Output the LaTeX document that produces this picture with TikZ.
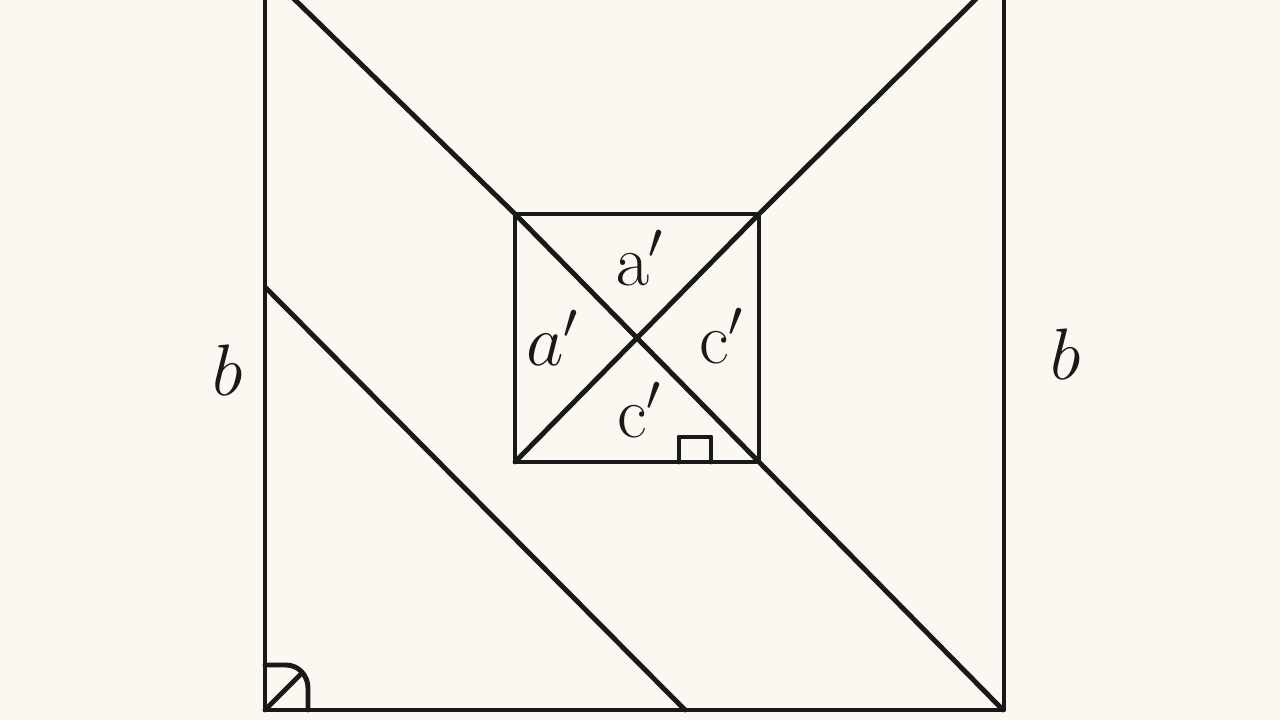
\documentclass[tikz,border=0pt]{standalone}
\usepackage{amsmath}
\definecolor{paper}{RGB}{250,248,240}
\definecolor{ink}{RGB}{25,25,25}
\tikzset{
    edge/.style={line width=1.4pt, draw=ink, line cap=round, line join=round},
    lbl/.style={font=\fontsize{22}{26}\selectfont, text=ink}
}
\begin{document}
\begin{tikzpicture}
    % Background and frame
    \fill[paper] (0,0) rectangle (12.8,7.2);
    \useasboundingbox (0,0) rectangle (12.8,7.2);

    % Inner square corners
    \coordinate (ITL) at (5.15,5.06);
    \coordinate (ITR) at (7.59,5.06);
    \coordinate (IBL) at (5.15,2.58);
    \coordinate (IBR) at (7.59,2.58);

    % Outer square (open at the top)
    \draw[edge] (2.65,7.25) -- (2.65,0.10) -- (10.04,0.10) -- (10.04,7.25);

    % Inner square
    \draw[edge] (ITL) rectangle (IBR);

    % Slanted cuts
    \draw[edge] (2.90,7.25) -- (ITL) -- (IBR) -- (10.03,0.10);
    \draw[edge] (9.80,7.25) -- (ITR) -- (IBL);
    \draw[edge] (2.66,4.32) -- (6.85,0.10);

    % Right-angle marks
    \draw[edge] (6.79,2.58) -- (6.79,2.83) -- (7.11,2.83) -- (7.11,2.58);
    \draw[edge] (2.65,0.55) -- (2.86,0.55) to[out=0,in=90] (3.08,0.32) -- (3.08,0.10);
    \draw[edge] (2.65,0.10) -- (3.00,0.45);

    % Labels
    \node[lbl] (bl) at (2.28,3.50) {$b$};
    \node[lbl] (br) at (10.66,3.66) {$b$};
    \node[lbl] (at) at (6.40,4.62) {$\mathrm{a}'$};
    \node[lbl] (al) at (5.53,3.82) {$a'$};
    \node[lbl] (cr) at (7.22,3.84) {$\mathrm{c}'$};
    \node[lbl] (cb) at (6.40,3.10) {$\mathrm{c}'$};
\end{tikzpicture}
\end{document}
